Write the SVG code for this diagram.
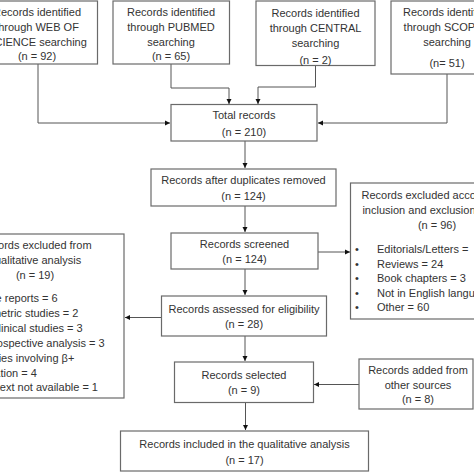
<svg xmlns="http://www.w3.org/2000/svg" width="474" height="474" viewBox="0 0 474 474">
<style>
rect.b{fill:#fff;stroke:#6a6a6a;stroke-width:1.2}
text{font-family:"Liberation Sans",Arial,sans-serif;font-size:11px;fill:#333}
.c{text-anchor:middle}
.conn path{fill:none;stroke:#555;stroke-width:1}
</style>
<defs>
<marker id="ah" markerUnits="userSpaceOnUse" markerWidth="6" markerHeight="6" refX="5" refY="3" orient="auto">
<path d="M0,0.5 L5,3 L0,5.5 Z" fill="#111"/>
</marker>
</defs>
<rect width="474" height="474" fill="#fff"/>
<g class="conn">
<path d="M38,64 V123 H170" marker-end="url(#ah)"/>
<path d="M171,64 V88 H229 V104" marker-end="url(#ah)"/>
<path d="M315.5,65.5 V87 H258 V104" marker-end="url(#ah)"/>
<path d="M447,74 V123 H318" marker-end="url(#ah)"/>
<path d="M245,141 V168" marker-end="url(#ah)"/>
<path d="M245,206 V232" marker-end="url(#ah)"/>
<path d="M318,252 H350" marker-end="url(#ah)"/>
<path d="M245,269 V295" marker-end="url(#ah)"/>
<path d="M161.5,317.5 H125" marker-end="url(#ah)"/>
<path d="M245,336 V361" marker-end="url(#ah)"/>
<path d="M359,384.5 H314" marker-end="url(#ah)"/>
<path d="M245.5,402.5 V430" marker-end="url(#ah)"/>
</g>
<g id="n-wos">
<rect class="b" x="-23" y="1" width="120.5" height="63"/>
<text class="c" x="37" y="16">Records identified</text>
<text class="c" x="37" y="30.5">through WEB OF</text>
<text class="c" x="37" y="46">SCIENCE searching</text>
<text class="c" x="37" y="59.5">(n = 92)</text>
</g>
<g id="n-pubmed">
<rect class="b" x="113" y="1" width="116.5" height="63"/>
<text class="c" x="171" y="16">Records identified</text>
<text class="c" x="171" y="30.5">through PUBMED</text>
<text class="c" x="171" y="46">searching</text>
<text class="c" x="171" y="59.5">(n = 65)</text>
</g>
<g id="n-central">
<rect class="b" x="256" y="1" width="119" height="64.5"/>
<text class="c" x="315.5" y="16.5">Records identified</text>
<text class="c" x="315.5" y="31.5">through CENTRAL</text>
<text class="c" x="315.5" y="46.5">searching</text>
<text class="c" x="315.5" y="64">(n = 2)</text>
</g>
<g id="n-scopus">
<rect class="b" x="391" y="1" width="112" height="73"/>
<text class="c" x="447" y="16">Records identified</text>
<text class="c" x="447" y="31">through SCOPUS</text>
<text class="c" x="447" y="46">searching</text>
<text class="c" x="447" y="67">(n= 51)</text>
</g>
<g id="n-total">
<rect class="b" x="171" y="104.5" width="146" height="36.5"/>
<text class="c" x="244" y="119">Total records</text>
<text class="c" x="244" y="136">(n = 210)</text>
</g>
<g id="n-dup">
<rect class="b" x="151" y="169" width="185" height="37"/>
<text class="c" x="243.5" y="184">Records after duplicates removed</text>
<text class="c" x="243.5" y="200">(n = 124)</text>
</g>
<g id="n-screened">
<rect class="b" x="171" y="233" width="147" height="36"/>
<text class="c" x="244.5" y="248">Records screened</text>
<text class="c" x="244.5" y="263">(n = 124)</text>
</g>
<g id="n-excl96">
<rect class="b" x="350.5" y="183" width="175" height="136"/>
<text class="c" x="437" y="199">Records excluded according to</text>
<text class="c" x="437" y="213.5">inclusion and exclusion criteria</text>
<text class="c" x="437" y="229">(n = 96)</text>
<text x="355" y="253">•</text><text x="377" y="253">Editorials/Letters =</text>
<text x="355" y="267.5">•</text><text x="377" y="267.5">Reviews = 24</text>
<text x="355" y="282">•</text><text x="377" y="282">Book chapters = 3</text>
<text x="355" y="297">•</text><text x="377" y="297">Not in English language</text>
<text x="355" y="311">•</text><text x="377" y="311">Other = 60</text>
</g>
<g id="n-assessed">
<rect class="b" x="161.5" y="296" width="165" height="40"/>
<text class="c" x="244" y="313">Records assessed for eligibility</text>
<text class="c" x="244" y="328">(n = 28)</text>
</g>
<g id="n-excl19">
<rect class="b" x="-54" y="234" width="178" height="164"/>
<text class="c" x="35" y="249">Records excluded from</text>
<text class="c" x="35" y="264">qualitative analysis</text>
<text class="c" x="35" y="279">(n = 19)</text>
<text x="-24" y="302">Case reports = 6</text>
<text x="-24" y="317">Biometric studies = 2</text>
<text x="-24" y="332">Preclinical studies = 3</text>
<text x="-24" y="347">Retrospective analysis = 3</text>
<text x="-24" y="362">Studies involving  β+</text>
<text x="-24" y="377">radiation = 4</text>
<text x="-24" y="391">Full text not available = 1</text>
</g>
<g id="n-selected">
<rect class="b" x="174.5" y="362" width="139" height="40.5"/>
<text class="c" x="244" y="379">Records selected</text>
<text class="c" x="244" y="394">(n = 9)</text>
</g>
<g id="n-added">
<rect class="b" x="359" y="359" width="114" height="50"/>
<text class="c" x="418" y="374">Records added from</text>
<text class="c" x="418" y="389">other sources</text>
<text class="c" x="418" y="403">(n = 8)</text>
</g>
<g id="n-included">
<rect class="b" x="120.5" y="431" width="248" height="40"/>
<text class="c" x="244.5" y="447.5">Records included in the qualitative analysis</text>
<text class="c" x="244.5" y="463.5">(n = 17)</text>
</g>
</svg>
